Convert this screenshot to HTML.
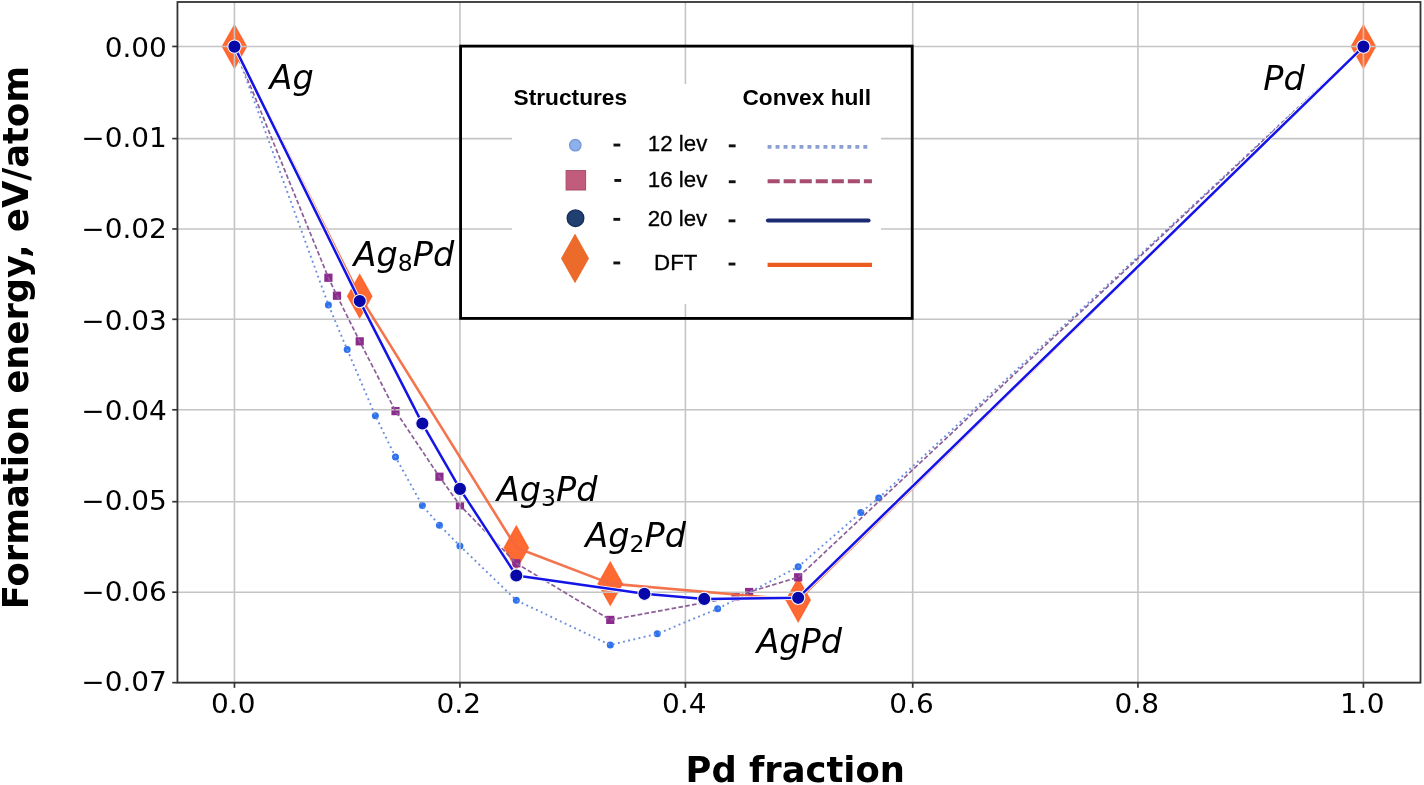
<!DOCTYPE html>
<html><head><meta charset="utf-8"><title>Formation energy convex hull</title>
<style>
html,body{margin:0;padding:0;background:#fff;}
body{width:1424px;height:785px;overflow:hidden;}
svg{display:block;}
.tk{font-family:"DejaVu Sans","Liberation Sans",sans-serif;font-size:26px;fill:#000;}
.ax{font-family:"DejaVu Sans","Liberation Sans",sans-serif;font-size:35.3px;font-weight:bold;fill:#000;}
.mt{font-family:"DejaVu Sans","Liberation Sans",sans-serif;font-size:33.5px;font-style:italic;fill:#000;}
.lg{font-family:"Liberation Sans",Arial,sans-serif;font-size:22.3px;fill:#000;stroke:#000;stroke-width:0.3px;}
.lgb{font-family:"Liberation Sans",Arial,sans-serif;font-size:22.7px;font-weight:bold;fill:#000;}
</style></head><body>
<svg width="1424" height="785" viewBox="0 0 1424 785">
<rect x="0" y="0" width="1424" height="785" fill="#fff"/>
<g fill="#ff4500" fill-opacity="0.8" stroke="#ff4500" stroke-opacity="0.55" stroke-width="1.2"><path d="M234.45,24.70 L246.75,46.60 L234.45,68.50 L222.15,46.60Z"/><path d="M359.72,274.28 L372.02,296.18 L359.72,318.08 L347.42,296.18Z"/><path d="M516.31,525.78 L528.61,547.68 L516.31,569.58 L504.01,547.68Z"/><path d="M610.27,561.76 L622.57,583.66 L610.27,605.56 L597.97,583.66Z"/><path d="M798.17,578.11 L810.47,600.01 L798.17,621.91 L785.88,600.01Z"/><path d="M1363.43,24.70 L1375.73,46.60 L1363.43,68.50 L1351.13,46.60Z"/></g>
<g fill="#2e72ee"><circle cx="328.40" cy="304.91" r="3.5"/><circle cx="347.19" cy="349.61" r="3.5"/><circle cx="375.38" cy="415.66" r="3.5"/><circle cx="395.51" cy="457.00" r="3.5"/><circle cx="422.36" cy="505.61" r="3.5"/><circle cx="439.44" cy="525.23" r="3.5"/><circle cx="459.94" cy="545.95" r="3.5"/><circle cx="516.31" cy="600.28" r="3.5"/><circle cx="610.27" cy="644.98" r="3.5"/><circle cx="657.24" cy="633.81" r="3.5"/><circle cx="717.64" cy="608.82" r="3.5"/><circle cx="798.17" cy="566.85" r="3.5"/><circle cx="860.81" cy="512.42" r="3.5"/><circle cx="878.71" cy="498.07" r="3.5"/></g>
<g fill="#8e2a8e"><rect x="324.30" y="273.64" width="8.2" height="8.2"/><rect x="332.85" y="291.63" width="8.2" height="8.2"/><rect x="355.62" y="337.24" width="8.2" height="8.2"/><rect x="391.41" y="407.02" width="8.2" height="8.2"/><rect x="435.34" y="472.62" width="8.2" height="8.2"/><rect x="455.84" y="501.15" width="8.2" height="8.2"/><rect x="512.21" y="559.20" width="8.2" height="8.2"/><rect x="606.17" y="615.81" width="8.2" height="8.2"/><rect x="731.44" y="592.82" width="8.2" height="8.2"/><rect x="745.03" y="587.91" width="8.2" height="8.2"/><rect x="794.07" y="573.20" width="8.2" height="8.2"/></g>
<g stroke="#c4c4c4" stroke-width="1.6"><line x1="234.45" y1="2.0" x2="234.45" y2="682.65"/><line x1="459.94" y1="2.0" x2="459.94" y2="682.65"/><line x1="685.43" y1="2.0" x2="685.43" y2="682.65"/><line x1="912.70" y1="2.0" x2="912.70" y2="682.65"/><line x1="1137.94" y1="2.0" x2="1137.94" y2="682.65"/><line x1="1363.43" y1="2.0" x2="1363.43" y2="682.65"/><line x1="177.45" y1="46.45" x2="1420.5" y2="46.45"/><line x1="177.45" y1="138.60" x2="1420.5" y2="138.60"/><line x1="177.45" y1="228.96" x2="1420.5" y2="228.96"/><line x1="177.45" y1="319.30" x2="1420.5" y2="319.30"/><line x1="177.45" y1="409.80" x2="1420.5" y2="409.80"/><line x1="177.45" y1="501.70" x2="1420.5" y2="501.70"/><line x1="177.45" y1="592.20" x2="1420.5" y2="592.20"/><line x1="177.45" y1="682.65" x2="1420.5" y2="682.65"/></g>
<polyline points="234.45,46.60 328.40,304.91 347.19,349.61 375.38,415.66 395.51,457.00 422.36,505.61 439.44,525.23 459.94,545.95 516.31,600.28 610.27,644.98 657.24,633.81 717.64,608.82 798.17,566.85 860.81,512.42 878.71,498.07 1363.43,46.60" fill="none" stroke="#6c8ede" stroke-width="1.9" stroke-dasharray="1.9 3.4" stroke-linecap="butt"/>
<polyline points="234.45,46.60 328.40,277.74 336.95,295.73 359.72,341.34 395.51,411.12 439.44,476.72 459.94,505.25 516.31,563.30 610.27,619.91 735.54,596.92 749.13,592.01 798.17,577.30 1363.43,46.60" fill="none" stroke="#8c5e98" stroke-width="1.7" stroke-dasharray="4.6 2.3"/>
<polyline points="234.45,46.60 359.72,296.18 516.31,547.68 610.27,583.66 798.17,600.01 1363.43,46.60" fill="none" stroke="#f2683e" stroke-opacity="0.92" stroke-width="2.6" stroke-linejoin="round"/>
<polyline points="234.45,46.60 359.72,301.09 422.36,423.57 459.94,488.89 516.31,575.48 644.43,593.83 704.22,598.92 798.17,597.83 1363.43,46.60" fill="none" stroke="#fff" stroke-width="4.2" stroke-linejoin="round"/>
<polyline points="234.45,46.60 359.72,301.09 422.36,423.57 459.94,488.89 516.31,575.48 644.43,593.83 704.22,598.92 798.17,597.83 1363.43,46.60" fill="none" stroke="#1414e6" stroke-width="2.5" stroke-linejoin="round"/>
<g fill="#0808a8" stroke="#f4f4ff" stroke-width="1.1"><circle cx="234.45" cy="46.60" r="6.6"/><circle cx="359.72" cy="301.09" r="6.6"/><circle cx="422.36" cy="423.57" r="6.6"/><circle cx="459.94" cy="488.89" r="6.6"/><circle cx="516.31" cy="575.48" r="6.6"/><circle cx="644.43" cy="593.83" r="6.6"/><circle cx="704.22" cy="598.92" r="6.6"/><circle cx="798.17" cy="597.83" r="6.6"/><circle cx="1363.43" cy="46.60" r="6.6"/></g>
<rect x="177.45" y="2.0" width="1243.05" height="680.65" fill="none" stroke="#333" stroke-width="1.8"/>
<g stroke="#333" stroke-width="1.7"><line x1="234.45" y1="682.65" x2="234.45" y2="687.85"/><line x1="459.94" y1="682.65" x2="459.94" y2="687.85"/><line x1="685.43" y1="682.65" x2="685.43" y2="687.85"/><line x1="912.70" y1="682.65" x2="912.70" y2="687.85"/><line x1="1137.94" y1="682.65" x2="1137.94" y2="687.85"/><line x1="1363.43" y1="682.65" x2="1363.43" y2="687.85"/><line x1="172.25" y1="46.45" x2="177.45" y2="46.45"/><line x1="172.25" y1="138.60" x2="177.45" y2="138.60"/><line x1="172.25" y1="228.96" x2="177.45" y2="228.96"/><line x1="172.25" y1="319.30" x2="177.45" y2="319.30"/><line x1="172.25" y1="409.80" x2="177.45" y2="409.80"/><line x1="172.25" y1="501.70" x2="177.45" y2="501.70"/><line x1="172.25" y1="592.20" x2="177.45" y2="592.20"/><line x1="172.25" y1="682.65" x2="177.45" y2="682.65"/></g>
<g class="tk"><text transform="translate(166.9,56.60) scale(1.075,1)" text-anchor="end">0.00</text><text transform="translate(166.9,147.00) scale(1.075,1)" text-anchor="end">−0.01</text><text transform="translate(166.9,237.80) scale(1.075,1)" text-anchor="end">−0.02</text><text transform="translate(166.9,329.50) scale(1.075,1)" text-anchor="end">−0.03</text><text transform="translate(166.9,419.80) scale(1.075,1)" text-anchor="end">−0.04</text><text transform="translate(166.9,510.40) scale(1.075,1)" text-anchor="end">−0.05</text><text transform="translate(166.9,600.90) scale(1.075,1)" text-anchor="end">−0.06</text><text transform="translate(166.9,691.30) scale(1.075,1)" text-anchor="end">−0.07</text><text transform="translate(233.25,712.7) scale(1.075,1)" text-anchor="middle">0.0</text><text transform="translate(458.74,712.7) scale(1.075,1)" text-anchor="middle">0.2</text><text transform="translate(684.23,712.7) scale(1.075,1)" text-anchor="middle">0.4</text><text transform="translate(911.50,712.7) scale(1.075,1)" text-anchor="middle">0.6</text><text transform="translate(1136.74,712.7) scale(1.075,1)" text-anchor="middle">0.8</text><text transform="translate(1362.23,712.7) scale(1.075,1)" text-anchor="middle">1.0</text></g>
<text class="ax" x="795.2" y="782.4" text-anchor="middle">Pd fraction</text>
<text class="ax" transform="translate(28.3,337.6) rotate(-90)" text-anchor="middle">Formation energy, eV/atom</text>
<text class="mt" x="269.6" y="88.6">Ag</text>
<text class="mt" x="353.6" y="265.6">Ag<tspan font-size="23.5px" font-style="normal" dy="5">8</tspan><tspan dy="-5">Pd</tspan></text>
<text class="mt" x="496.8" y="501">Ag<tspan font-size="23.5px" font-style="normal" dy="5">3</tspan><tspan dy="-5">Pd</tspan></text>
<text class="mt" x="585.3" y="546.8">Ag<tspan font-size="23.5px" font-style="normal" dy="5">2</tspan><tspan dy="-5">Pd</tspan></text>
<text class="mt" x="756.4" y="652.6">AgPd</text>
<text class="mt" x="1263.2" y="89.8">Pd</text>
<g>
<rect x="512" y="84" width="369" height="220" fill="#fff"/>
<rect x="460.6" y="46.1" width="451.6" height="272.3" fill="none" stroke="#000" stroke-width="2.8"/>
<text class="lgb" x="513.6" y="104.9">Structures</text>
<text class="lgb" x="742.4" y="105.2">Convex hull</text>
<circle cx="575.3" cy="145.2" r="5.7" fill="#8fb0ea" stroke="#7598da" stroke-width="1.3"/>
<rect x="566.1" y="170.6" width="19.5" height="19.4" fill="#c25c7c" stroke="#a84a6a" stroke-width="1"/>
<circle cx="575.5" cy="218.2" r="8.3" fill="#22406f" stroke="#142d5a" stroke-width="1.4"/>
<path d="M575,233.5 L589,258.4 L575,283.3 L561,258.4Z" fill="#ec6a2a"/>
<g class="lg">
<text x="647.8" y="150.6">12 lev</text>
<text x="647.8" y="186.6">16 lev</text>
<text x="647.7" y="225.9">20 lev</text>
<text x="654.1" y="270.3">DFT</text>
</g>
<g fill="#111">
<rect x="613.5" y="143.6" width="6.8" height="2.9"/><rect x="614.4" y="179" width="6.8" height="2.9"/><rect x="613.4" y="217.9" width="6.8" height="2.9"/><rect x="613.4" y="261.5" width="6.8" height="2.9"/>
<rect x="728.8" y="144.4" width="6.8" height="2.9"/><rect x="728.8" y="180.3" width="6.8" height="2.9"/><rect x="728.6" y="219.4" width="6.8" height="2.9"/><rect x="728.6" y="262.6" width="6.8" height="2.9"/>
</g>
<line x1="767.6" y1="146.8" x2="867.4" y2="146.8" stroke="#8a9ed4" stroke-width="3.8" stroke-dasharray="3.9 4.08"/>
<line x1="767.6" y1="181.3" x2="871.9" y2="181.3" stroke="#a84c70" stroke-width="3.9" stroke-dasharray="12.1 3.94"/>
<line x1="768" y1="220.5" x2="868.5" y2="220.5" stroke="#1b2a72" stroke-width="4.2" stroke-linecap="round"/>
<line x1="767.6" y1="264.8" x2="872" y2="264.8" stroke="#eb5c1e" stroke-width="4.2"/>
</g>
</svg>
</body></html>
